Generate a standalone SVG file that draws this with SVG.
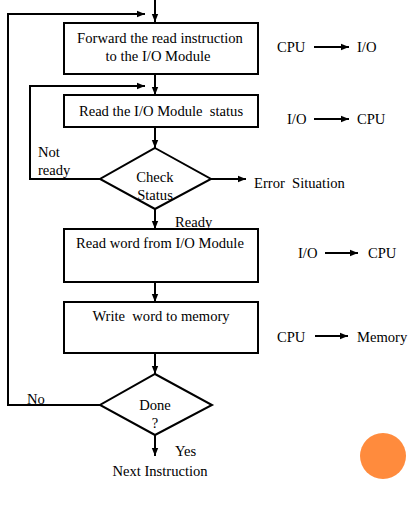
<svg xmlns="http://www.w3.org/2000/svg" width="408" height="506" viewBox="0 0 408 506">
<defs>
<marker id="ah" viewBox="0 0 10 10" refX="10" refY="5" markerWidth="4.5" markerHeight="4" orient="auto" markerUnits="strokeWidth"><path d="M0,1 L10,5 L0,9 z" fill="#000"/></marker>
<style>
text{font-family:"Liberation Serif","Times New Roman",serif;font-size:14.6px;fill:#000}
.c{text-anchor:middle}
.box{fill:#fff;stroke:#000;stroke-width:2}
.ln{fill:none;stroke:#000;stroke-width:2}
.ar{fill:none;stroke:#000;stroke-width:2;marker-end:url(#ah)}
</style>
</defs>
<rect width="408" height="506" fill="#fff"/>
<g id="connectors">
<path class="ar" d="M155,0 V22"/>
<path class="ar" d="M155,74 V95"/>
<path class="ar" d="M155,127 V148"/>
<path class="ar" d="M155,209 V229"/>
<path class="ar" d="M155,282 V302"/>
<path class="ar" d="M155,353 V374"/>
<path class="ar" d="M155,435 V456"/>
<path class="ar" d="M100,179 H30 V86 H145"/>
<path class="ar" d="M100,405 H8 V14 H145"/>
<path class="ar" d="M211,179 H246"/>
<path class="ar" d="M314,47 H349"/>
<path class="ar" d="M314,119 H349"/>
<path class="ar" d="M325,253 H358"/>
<path class="ar" d="M315,336 H348"/>
</g>
<g id="n1"><rect class="box" x="64" y="23" width="194" height="51"/><text class="c" x="160" y="43">Forward the read instruction</text><text class="c" x="158" y="61">to the I/O Module</text></g>
<g id="n2"><rect class="box" x="64" y="95" width="194" height="32"/><text class="c" x="161" y="116" xml:space="preserve">Read the I/O Module  status</text></g>
<g id="n3"><path class="box" d="M155,148 L211,179 L155,209 L100,179 Z"/><text class="c" x="155" y="182">Check</text><text class="c" x="155" y="200">Status</text></g>
<g id="n4"><rect class="box" x="64" y="229" width="194" height="53"/><text class="c" x="160" y="248">Read word from I/O Module</text></g>
<g id="n5"><rect class="box" x="64" y="302" width="194" height="51"/><text class="c" x="161" y="321" xml:space="preserve">Write  word to memory</text></g>
<g id="n6"><path class="box" d="M155,374 L212,405 L155,435 L100,405 Z"/><text class="c" x="155" y="410">Done</text><text class="c" x="155" y="428">?</text></g>
<g id="labels">
<text x="38" y="157">Not</text><text x="38" y="175">ready</text>
<text x="254" y="188" xml:space="preserve">Error  Situation</text>
<text x="175" y="227">Ready</text>
<text x="27" y="404">No</text>
<text x="175" y="456">Yes</text>
<text class="c" x="160" y="476">Next Instruction</text>
<text x="277" y="52">CPU</text><text x="357" y="52">I/O</text>
<text x="287" y="124">I/O</text><text x="357" y="124">CPU</text>
<text x="298" y="258">I/O</text><text x="368" y="258">CPU</text>
<text x="277" y="342">CPU</text><text x="357" y="342">Memory</text>
</g>
<circle cx="383" cy="456" r="23" fill="#FF8B3D"/>
</svg>
